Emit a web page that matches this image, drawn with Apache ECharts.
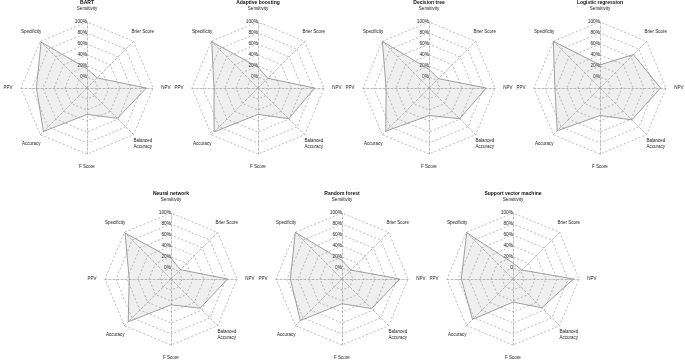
<!DOCTYPE html>
<html>
<head>
<meta charset="utf-8">
<script src="https://cdn.jsdelivr.net/npm/echarts@6/dist/echarts.min.js"></script>
<style>
html, body { margin: 0; padding: 0; background: #fff; }
#chart { width: 685px; height: 361px; }
</style>
</head>
<body>
<div id="chart"></div>
<script>
// axes, counter-clockwise from the top
var indicators = ['Sensitivity', 'Specificity', 'PPV', 'Accuracy', 'F Score', 'Balanced\nAccuracy', 'NPV', 'Brier Score'];
var models = ['BART', 'Adaptive boosting', 'Decision tree', 'Logistic regression', 'Neural network', 'Random forest', 'Support vector machine'];

var bart = [15, 98, 72, 92, 28, 58, 88, 6];
var adaBoost = [18, 99, 60, 93, 28, 59, 83, 5];
var decisionTree = [14, 100, 58, 91, 30, 59, 84, 4];
var logistic = [22, 100, 62, 90, 30, 62, 90, 66];
var neuralNet = [18, 98, 56, 90, 27, 55, 83, 4];
var randomForest = [14, 100, 74, 87, 25, 56, 85, 3];
var svm = [9, 99, 74, 84, 22, 54, 90, 3];
var modelValues = [bart, adaBoost, decisionTree, logistic, neuralNet, randomForest, svm];

var tickLabels = ['0%', '20%', '40%', '60%', '80%', '100%'];
var svmTickLabels = ['0', '20%', '40%', '60%', '80%', '100%'];

var centers = [[87, 88], [258, 88], [429, 88], [600, 88], [171, 279], [342, 279], [513, 279]];
var font = 'Liberation Sans, Arial, sans-serif';

var myChart = echarts.init(document.getElementById('chart'));

var radars = [], series = [], titles = [];
models.forEach(function (name, i) {
    var labels = i === 6 ? svmTickLabels : tickLabels;
    radars.push({
        center: centers[i],
        radius: 66,
        startAngle: 90,
        shape: 'polygon',
        splitNumber: 6,
        nameGap: 13,
        axisName: {
            color: '#222',
            fontSize: 4.5,
            fontFamily: font,
            align: 'center',
            verticalAlign: 'middle',
            lineHeight: 5.5
        },
        indicator: indicators.map(function (t, k) {
            var ind = { name: t, min: -20, max: 100 };
            if (k === 0) {
                ind.axisLabel = {
                    show: true,
                    margin: 0,
                    fontSize: 4.8,
                    fontFamily: font,
                    color: '#222',
                    formatter: function (v) {
                        return v < 0 ? '' : labels[Math.round(v / 20)];
                    }
                };
            }
            return ind;
        }),
        axisLine: { lineStyle: { color: '#aaa', type: [2, 2], width: 0.8 } },
        splitLine: { lineStyle: { color: '#aaa', type: [2, 2], width: 0.8 } },
        splitArea: { show: false },
        axisTick: { show: false },
        axisLabel: { show: false }
    });
    series.push({
        type: 'radar',
        radarIndex: i,
        symbol: 'none',
        lineStyle: { color: '#888', width: 0.8 },
        areaStyle: { color: 'rgba(150,150,150,0.22)' },
        data: [{ value: modelValues[i], name: name }]
    });
    titles.push({
        text: name,
        left: centers[i][0],
        top: centers[i][1] - 87.5,
        textAlign: 'center',
        padding: 0,
        textStyle: { fontSize: 5, fontWeight: 'bold', fontFamily: font, color: '#111' }
    });
});

option = {
    animation: false,
    title: titles,
    radar: radars,
    series: series
};
myChart.setOption(option);
</script>
</body>
</html>
